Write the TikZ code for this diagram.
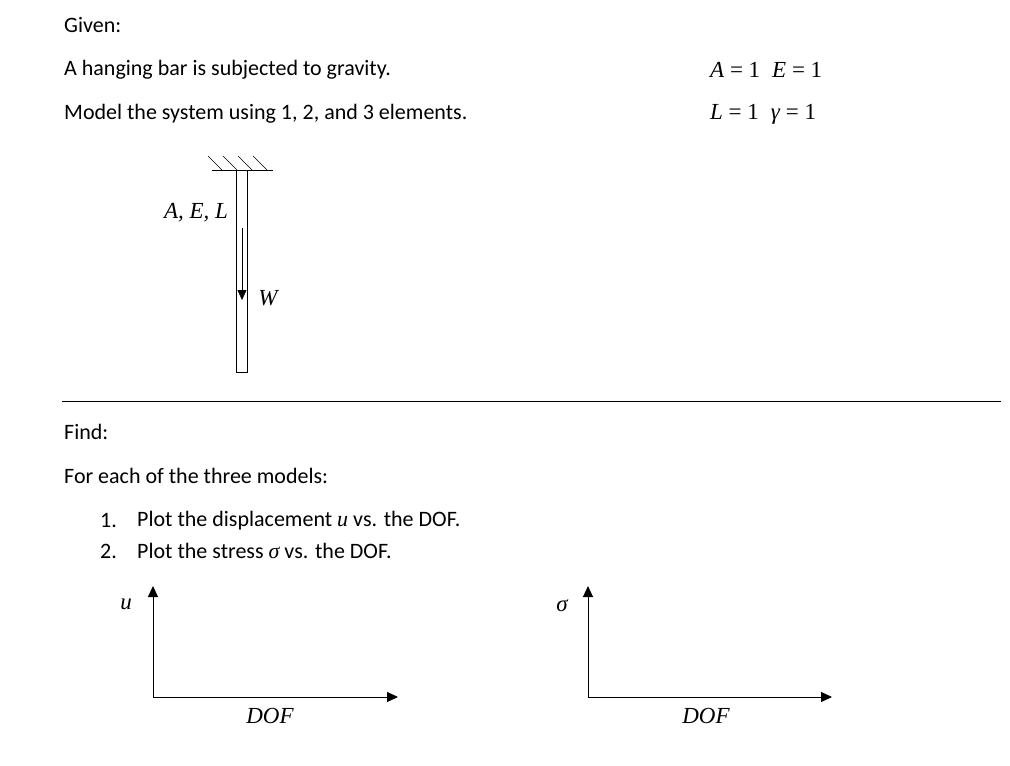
\documentclass[tikz,border=0pt]{standalone}
\usepackage{fontspec}
\setmainfont{Carlito}
\newfontfamily\mathf{Liberation Serif}
\usetikzlibrary{arrows.meta}
\begin{document}
\begin{tikzpicture}[x=1pt,y=-1pt,
  txt/.style={anchor=west,inner sep=0pt,font=\fontsize{22}{24}\selectfont},
  mt/.style={inner sep=0pt,font=\fontsize{23}{25}\selectfont\mathf\itshape},
  ax/.style={line width=1pt,-{Triangle[length=11pt,width=10pt]}}]
\useasboundingbox (0,0) rectangle (1010,766);
\node[txt] (g) at (64,25) {Given:};
\node[txt] (h) at (64,70) {A hanging bar is subjected to gravity.};
\node[txt] (m) at (64,114) {Model the system using 1, 2, and 3 elements.};
\node[mt,anchor=west] (p1) at (710,70) {A {\upshape = 1}\hspace{12pt}E {\upshape = 1}};
\node[mt,anchor=west] (p2) at (710,114) {L {\upshape = 1}\hspace{12pt}γ {\upshape = 1}};
% bar
\draw[line width=0.8pt] (212,170) -- (273,170);
\foreach \x in {208,223,238,253} \draw (\x,156) -- (\x+14,170);
\draw (236,170) rectangle (247,372);
\draw[-{Triangle[length=10pt,width=9pt]}] (242,228) -- (242,300);
\node[mt] (ael) at (196,213) {A, E, L};
\node[mt] (w) at (268,298) {W};
\draw (62,401) -- (1001,401);
\node[txt] (f) at (64,432) {Find:};
\node[txt] (fe) at (64,476) {For each of the three models:};
\node[txt] (n1) at (100,521) {1.};
\node[txt] (t1) at (137,521) {Plot the displacement {\mathf\itshape u} vs. the DOF.};
\node[txt] (n2) at (100,551) {2.};
\node[txt] (t2) at (137,551) {Plot the stress {\mathf\itshape σ} vs. the DOF.};
% axes
\coordinate (o1) at (153,697);
\coordinate (o2) at (588,697);
\draw[ax] (o1) -- (153,586);
\draw[ax] (o1) -- (398,697);
\draw[ax] (o2) -- (588,586);
\draw[ax] (o2) -- (832,697);
\node[mt] (u) at (126,604) {u};
\node[mt] (s) at (562,606) {σ};
\node[mt] (d1) at (270,716) {DOF};
\node[mt] (d2) at (706,716) {DOF};
\end{tikzpicture}
\end{document}
